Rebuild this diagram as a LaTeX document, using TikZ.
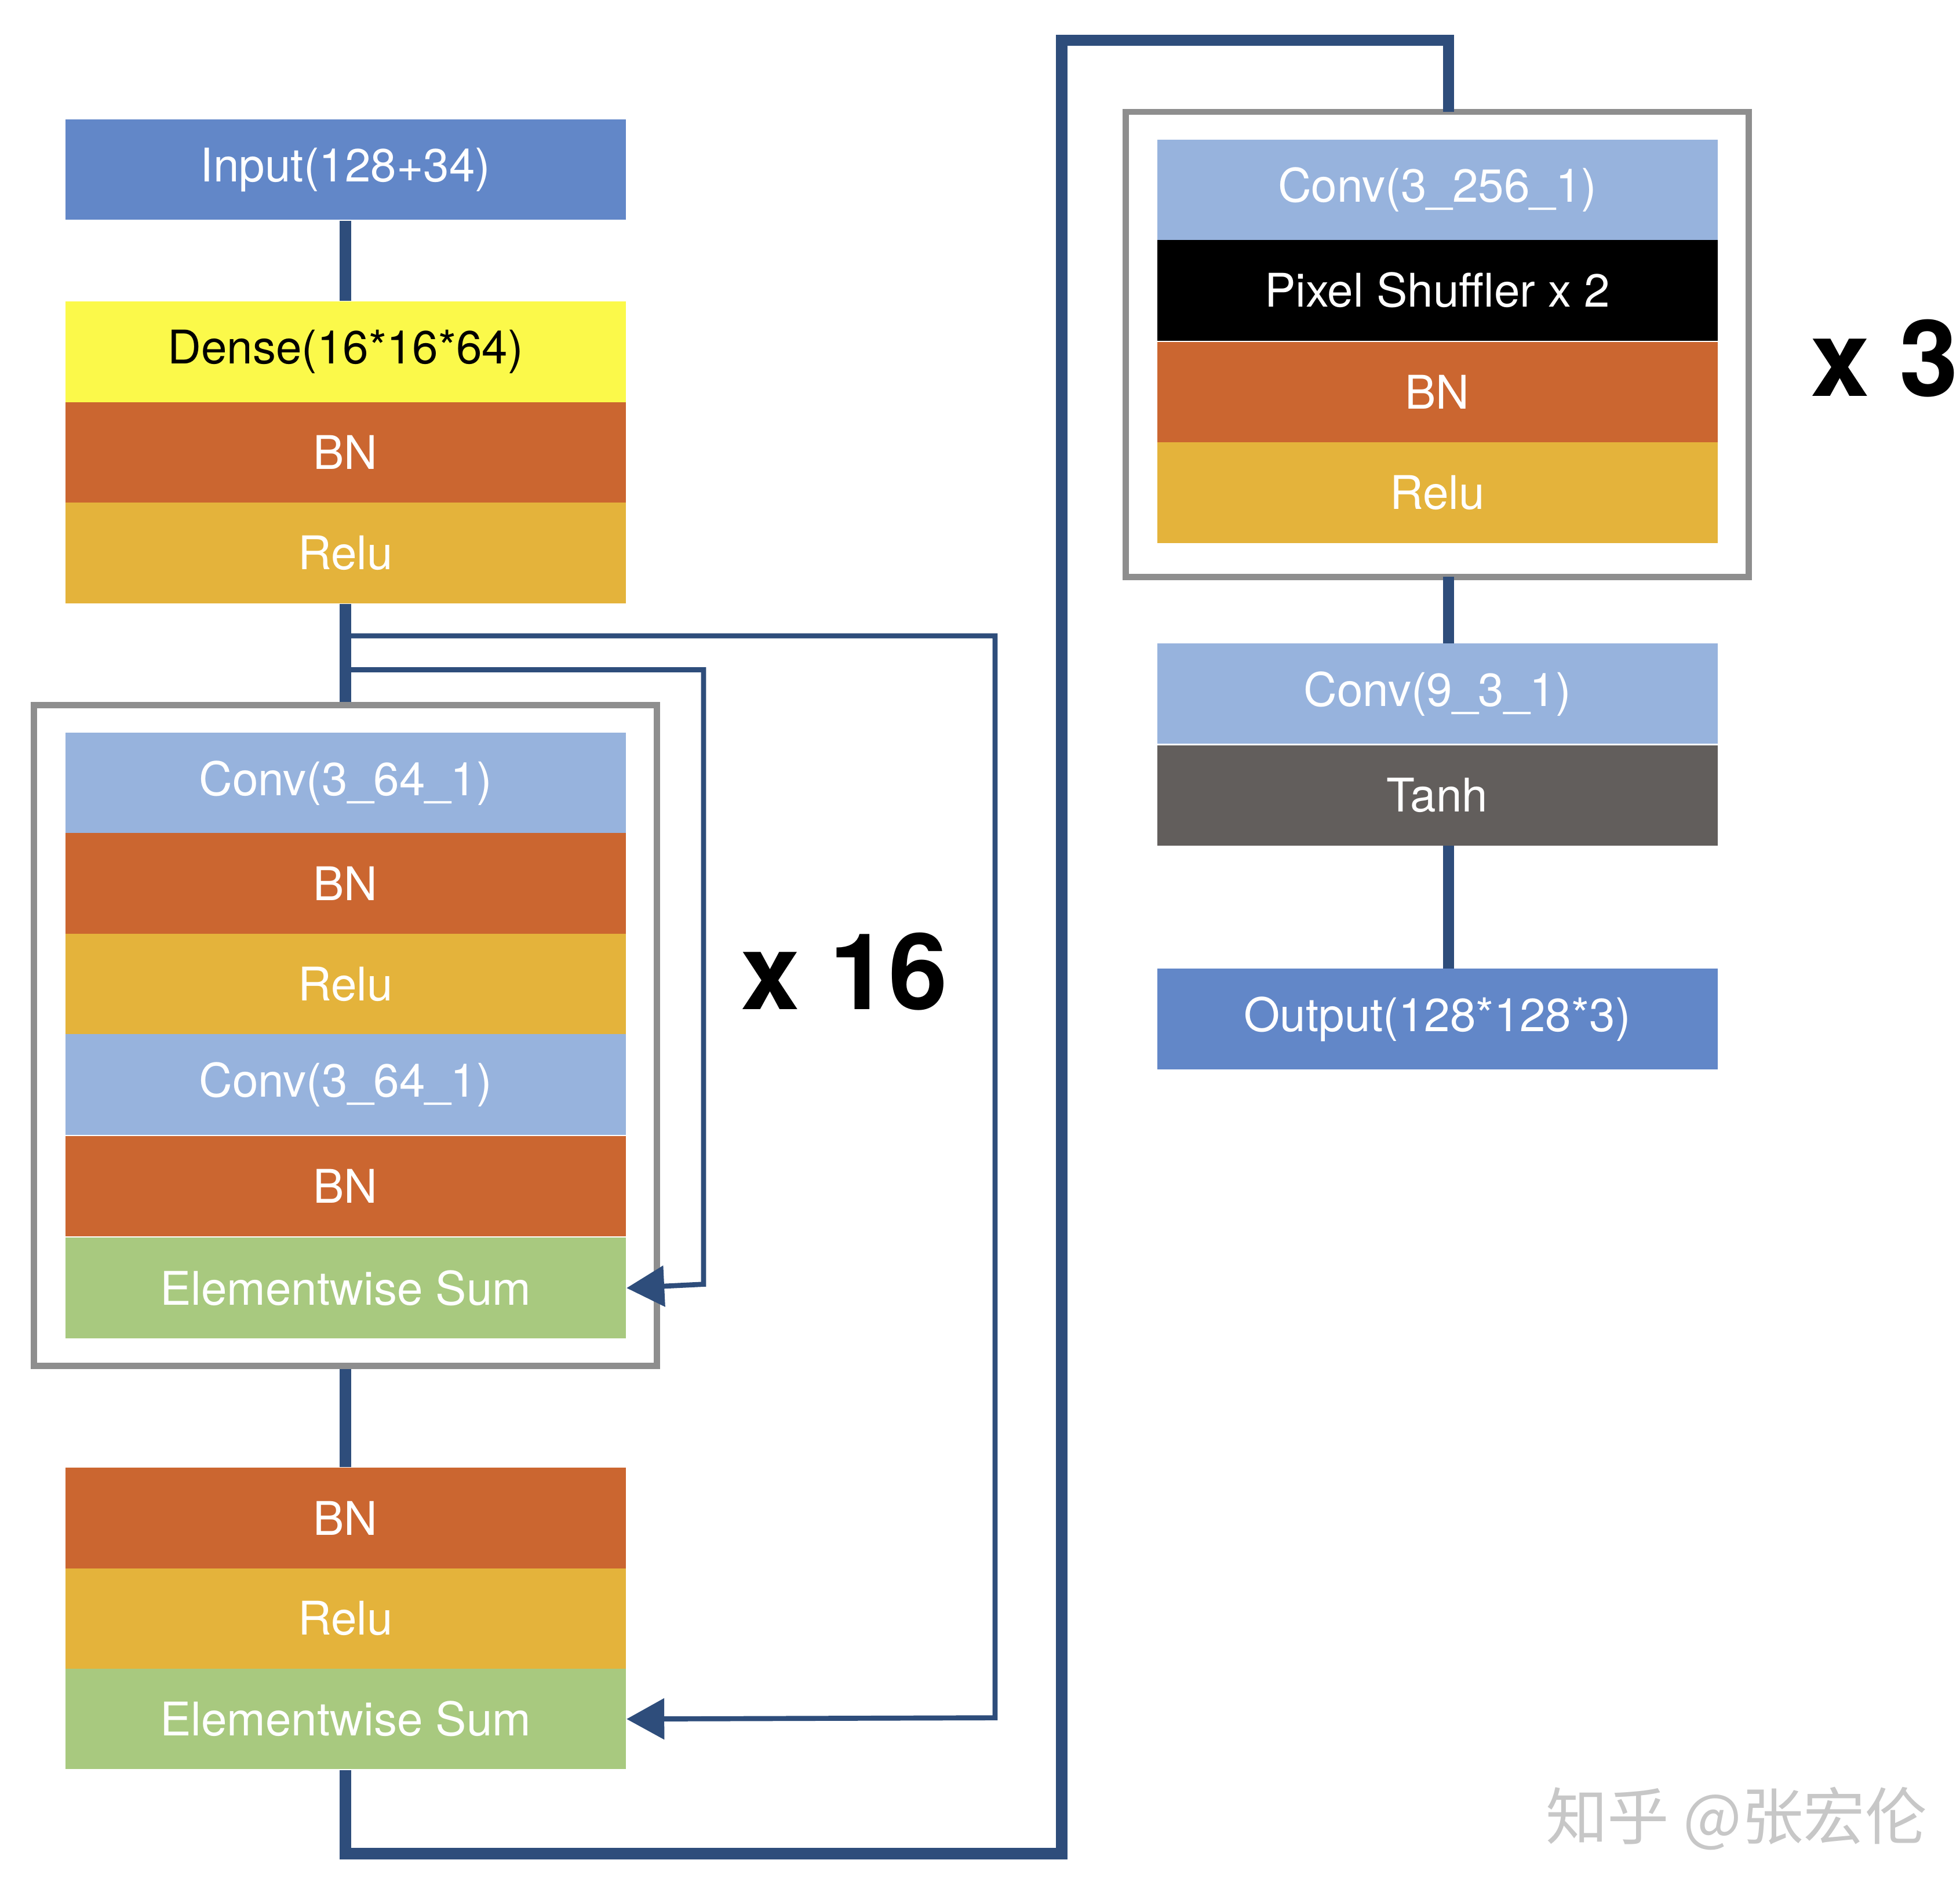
\documentclass[tikz,border=0pt]{standalone}
\usepackage{fontspec}
\setmainfont{TeX Gyre Heros}
\newfontfamily\cjk{Noto Sans CJK SC}
\usetikzlibrary{arrows.meta}
\definecolor{cin}{HTML}{6287C8}
\definecolor{cconv}{HTML}{97B3DD}
\definecolor{cbn}{HTML}{CB6630}
\definecolor{crelu}{HTML}{E4B33B}
\definecolor{cdense}{HTML}{FBF94A}
\definecolor{csum}{HTML}{A8C97F}
\definecolor{ctanh}{HTML}{625E5C}
\definecolor{cline}{HTML}{2E4D7B}
\definecolor{cbox}{HTML}{8E8E8E}
\begin{document}
\begin{tikzpicture}[x=0.1mm,y=-0.1mm,
 blk/.style={minimum width=44.6mm,minimum height=8mm,inner sep=0,draw=none,text=white,font=\fontsize{10.5}{12}\selectfont},
 thick line/.style={draw=cline,line width=0.9mm},
 thin line/.style={draw=cline,line width=0.4mm},
 arr/.style={thin line,-{Triangle[length=3mm,width=3.2mm]}},
 gbox/.style={draw=cbox,line width=0.5mm}]
\useasboundingbox[fill=white] (0,0) rectangle (1560,1503);
% left column
\node[blk,fill=cin] (in) at (275,135) {Input(128+34)};
\node[blk,fill=cdense,text=black] (dense) at (275,280) {Dense(16*16*64)};
\node[blk,fill=cbn] (bn1) at (275,360) {BN};
\node[blk,fill=crelu] (relu1) at (275,440) {Relu};
\node[blk,fill=cconv] (c1) at (275,623) {Conv(3\_64\_1)};
\node[blk,fill=cbn] (bn2) at (275,703) {BN};
\node[blk,fill=crelu] (relu2) at (275,783) {Relu};
\node[blk,fill=cconv] (c2) at (275,863) {Conv(3\_64\_1)};
\node[blk,fill=cbn] (bn3) at (275,944) {BN};
\node[blk,fill=csum] (es1) at (275,1025) {Elementwise Sum};
\node[gbox,minimum width=49.6mm,minimum height=52.6mm,inner sep=0] (box1) at (275,824) {};
\node[blk,fill=cbn] (bn4) at (275,1208) {BN};
\node[blk,fill=crelu] (relu4) at (275,1288) {Relu};
\node[blk,fill=csum] (es2) at (275,1368) {Elementwise Sum};
% right column
\node[blk,fill=cconv] (c3) at (1144,151) {Conv(3\_256\_1)};
\node[blk,fill=black] (ps) at (1144,231) {Pixel Shuffler x 2};
\node[blk,fill=cbn] (bn5) at (1144,312) {BN};
\node[blk,fill=crelu] (relu5) at (1144,392) {Relu};
\node[gbox,minimum width=49.6mm,minimum height=37mm,inner sep=0] (box2) at (1144,274) {};
\node[blk,fill=cconv] (c4) at (1144,552) {Conv(9\_3\_1)};
\node[blk,fill=ctanh] (tanh) at (1144,633) {Tanh};
\node[blk,fill=cin] (out) at (1144,811) {Output(128*128*3)};
% labels
\node[font=\bfseries\fontsize{24}{28}\selectfont] (x16) at (672,773) {x 16};
\node[font=\bfseries\fontsize{24}{28}\selectfont] (x3) at (1500,285) {x 3};
\node[text=black!22,font=\cjk\fontsize{14}{16}\selectfont] (wm) at (1382,1447) {知乎 @张宏伦};
% connectors
\draw[thick line] (in.south) -- (dense.north);
\draw[thick line] (relu1.south) -- (box1.north);
\draw[thick line] (box1.south) -- (bn4.north);
\coordinate (t1) at (275,506);
\coordinate (t2) at (275,533);
\draw[arr] (t1) -- (792,506) -- (792,1367) -- (es2.east);
\draw[arr] (t2) -- (560,533) -- (560,1022) -- (es1.east);
\draw[thick line] (es2.south) -- (275,1475) -- (845,1475) -- (845,32) -- (1153,32) -- (1153,89);
\draw[thick line] (1153,459) -- (1153,512);
\draw[thick line] (1153,673) -- (1153,771);
\end{tikzpicture}
\end{document}
